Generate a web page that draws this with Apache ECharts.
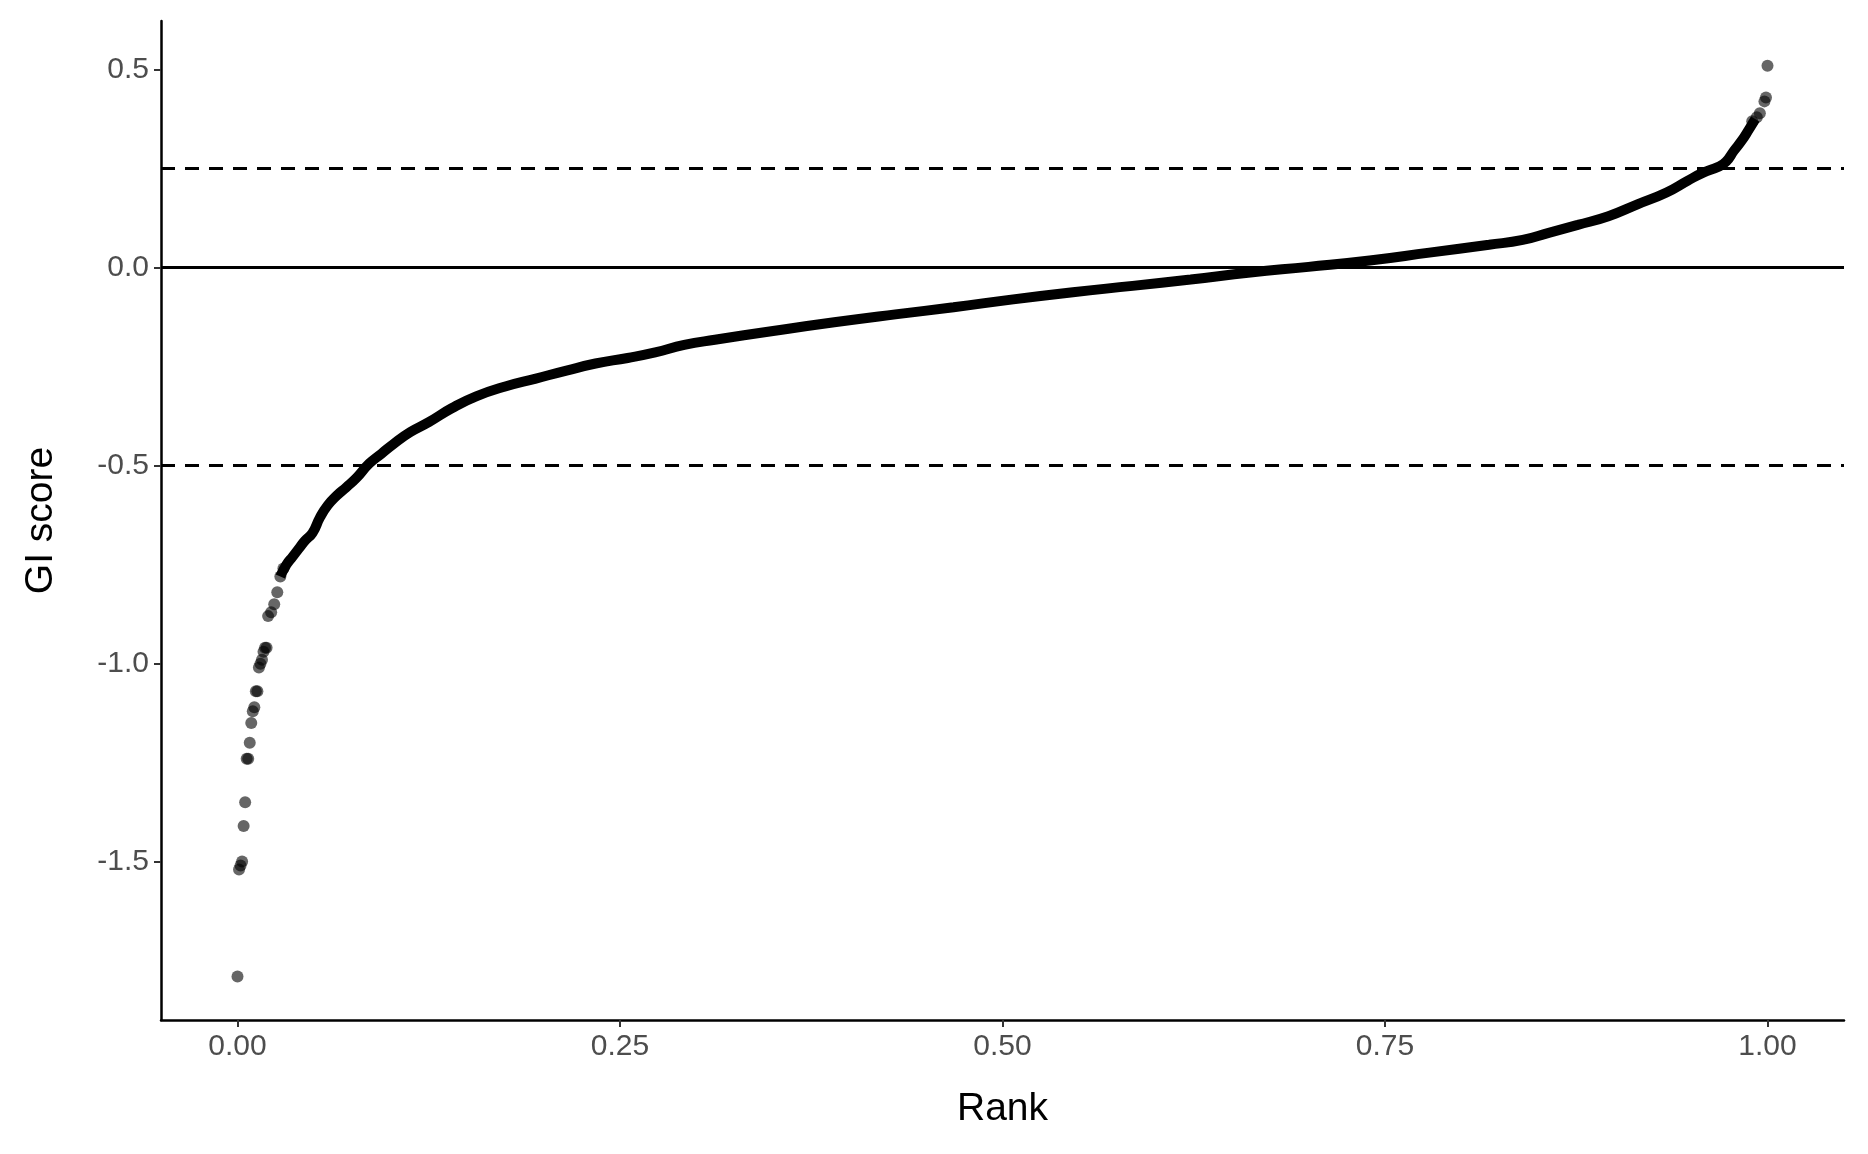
<!DOCTYPE html>
<html><head><meta charset="utf-8">
<script src="https://cdn.jsdelivr.net/npm/echarts@6/dist/echarts.min.js"></script>
<style>html,body{margin:0;padding:0;background:#fff}#c{width:1868px;height:1154px}</style>
</head><body><div id="c"></div>
<script>
// Tail points (rank, GI score)
const tailPoints = [
 [0.000,-1.79],[0.001,-1.52],[0.002,-1.51],[0.003,-1.50],[0.004,-1.41],[0.005,-1.35],
 [0.006,-1.24],[0.007,-1.24],[0.008,-1.20],[0.009,-1.15],[0.010,-1.12],[0.011,-1.11],
 [0.012,-1.07],[0.013,-1.07],[0.014,-1.01],[0.015,-1.00],[0.016,-0.99],[0.017,-0.97],
 [0.018,-0.96],[0.019,-0.96],[0.020,-0.88],[0.022,-0.87],[0.024,-0.85],[0.026,-0.82],
 [0.028,-0.78],[0.030,-0.76],
 [0.990,0.37],[0.993,0.38],[0.995,0.39],[0.998,0.42],[0.999,0.43],[1.000,0.51]
];
// Dense body of the curve (rank, GI score)
const curvePoints = [
 [0.028,-0.78],[0.032,-0.75],[0.036,-0.73],[0.040,-0.71],[0.044,-0.69],[0.049,-0.67],
 [0.054,-0.63],[0.059,-0.60],[0.065,-0.575],[0.071,-0.555],[0.078,-0.53],[0.086,-0.495],
 [0.094,-0.47],[0.102,-0.445],[0.113,-0.415],[0.125,-0.39],[0.140,-0.355],[0.156,-0.325],
 [0.175,-0.30],[0.195,-0.28],[0.215,-0.26],[0.234,-0.242],[0.255,-0.228],[0.273,-0.214],
 [0.292,-0.195],[0.312,-0.182],[0.350,-0.160],[0.390,-0.138],[0.430,-0.118],[0.468,-0.100],
 [0.507,-0.080],[0.546,-0.062],[0.585,-0.046],[0.623,-0.030],[0.662,-0.012],[0.700,0.002],
 [0.740,0.018],[0.779,0.038],[0.818,0.058],[0.840,0.070],[0.857,0.088],[0.876,0.108],
 [0.896,0.130],[0.915,0.160],[0.934,0.190],[0.948,0.220],[0.958,0.240],[0.968,0.255],
 [0.973,0.268],[0.978,0.295],[0.983,0.320],[0.988,0.350],[0.992,0.375]
];
const xTicks = [0, 0.25, 0.5, 0.75, 1.0];
const yTicks = [-1.5, -1.0, -0.5, 0.0, 0.5];
const refLines = [{v:0.25,t:'dashed'},{v:0,t:'solid'},{v:-0.5,t:'dashed'}];

const ch = echarts.init(document.getElementById('c'));
const fam = 'Liberation Sans, Arial, sans-serif';
ch.setOption({
 animation:false,
 grid:{left:161,right:24,top:21,bottom:134},
 xAxis:{type:'value',min:-0.05,max:1.05,name:'Rank',nameLocation:'middle',nameGap:70,
  nameTextStyle:{fontFamily:fam,fontSize:39,color:'#000'},
  splitLine:{show:false},
  axisLine:{onZero:false,lineStyle:{color:'#000',width:2.5}},
  axisTick:{customValues:xTicks,length:7,lineStyle:{color:'#333',width:2}},
  axisLabel:{customValues:xTicks,formatter:v=>v.toFixed(2),fontFamily:fam,fontSize:30,color:'#4d4d4d',margin:12}},
 yAxis:{type:'value',min:-1.9,max:0.623,name:'GI score',nameLocation:'middle',nameGap:100,
  nameTextStyle:{fontFamily:fam,fontSize:39,color:'#000'},
  splitLine:{show:false},
  axisLine:{show:true,onZero:false,lineStyle:{color:'#000',width:2.5}},
  axisTick:{show:true,customValues:yTicks,length:7,lineStyle:{color:'#333',width:2}},
  axisLabel:{customValues:yTicks,formatter:v=>v.toFixed(1),fontFamily:fam,fontSize:30,color:'#4d4d4d',margin:12}},
 series:[
  {type:'line',data:curvePoints,symbol:'none',smooth:true,lineStyle:{color:'#000',width:10},z:3,
   markLine:{silent:true,symbol:'none',label:{show:false},
    data:refLines.map(r=>({yAxis:r.v,lineStyle:{type:r.t==='dashed'?[14,10]:'solid',color:'#000',width:3}}))}},
  {type:'scatter',data:tailPoints,symbolSize:12,itemStyle:{color:'rgba(0,0,0,0.75)'},z:4}
 ]
});
</script></body></html>
